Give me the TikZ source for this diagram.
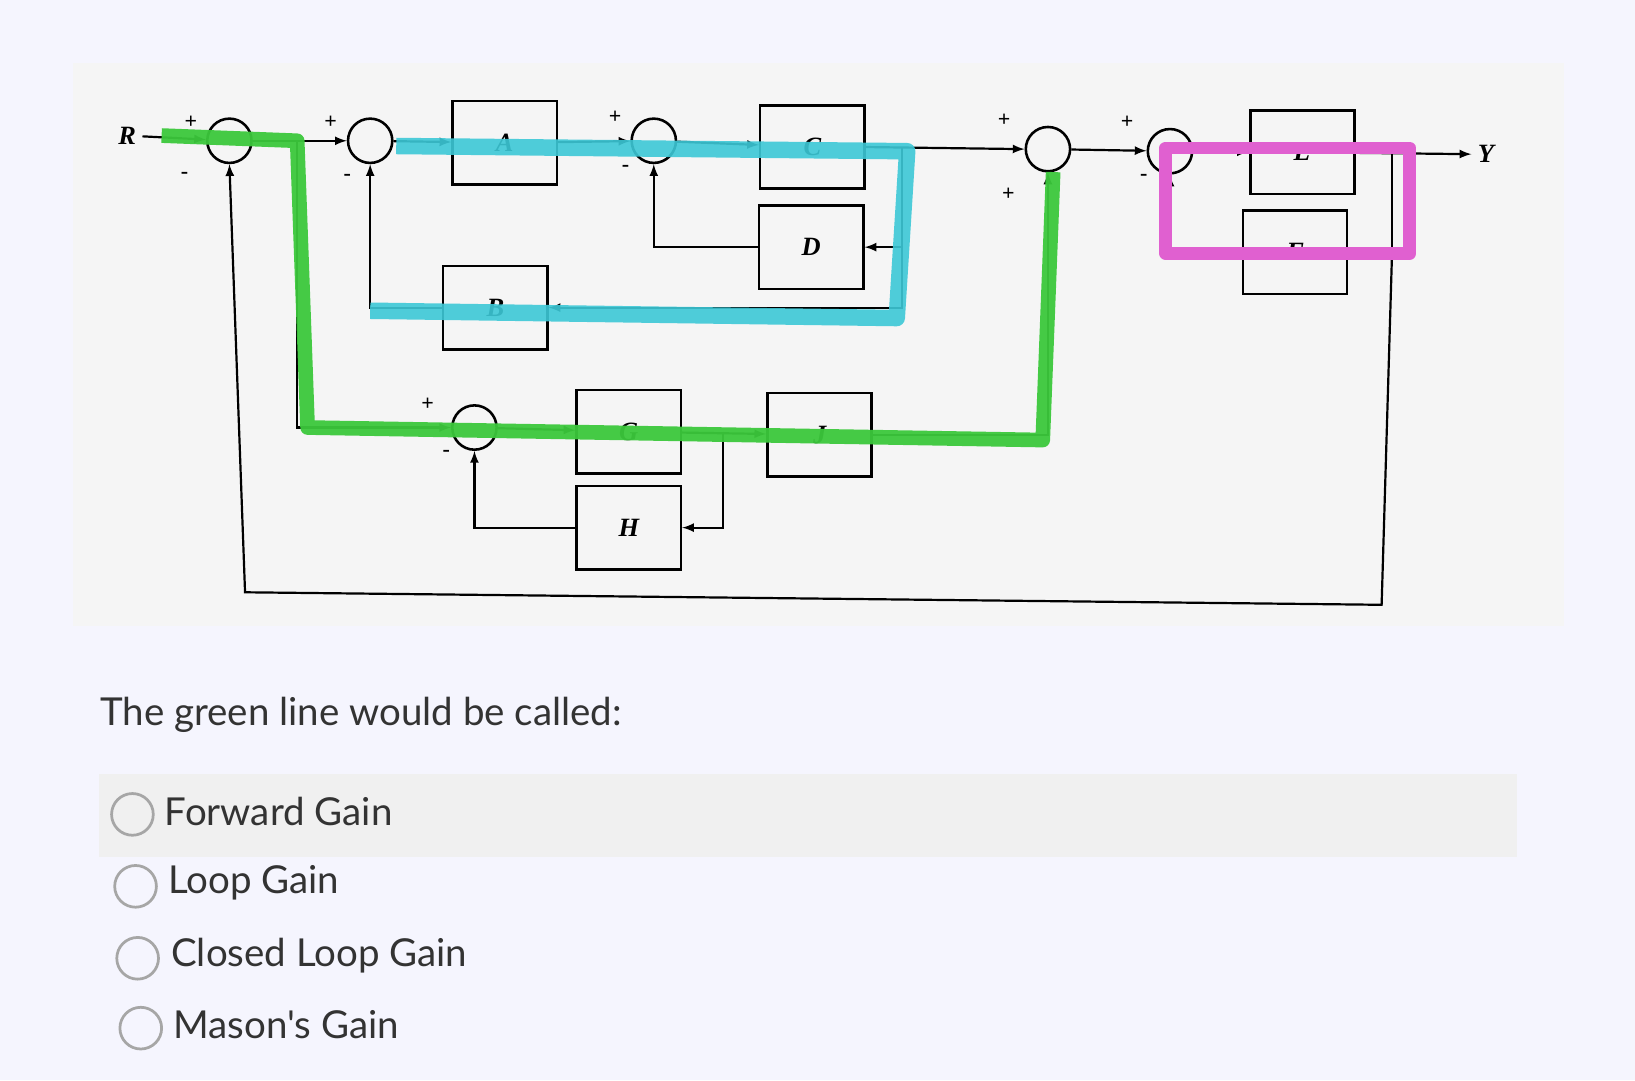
\documentclass[tikz,border=0pt]{standalone}
\usepackage{fontspec}
\setmainfont{Liberation Serif}
\newfontfamily\uifont{Lato}
\definecolor{cy}{HTML}{3CC8D6}
\definecolor{gr}{HTML}{3CC83C}
\definecolor{mg}{HTML}{E060D0}
\begin{document}
\begin{tikzpicture}[x=0.02cm,y=-0.02cm,
  blk/.style={draw,line width=1.4pt,minimum width=2cm,minimum height=1.6cm,font=\bfseries\itshape\Large},
  sm/.style={draw,circle,line width=1.4pt,minimum size=0.85cm,inner sep=0pt},
  ln/.style={line width=1.2pt},
  ar/.style={ln,-latex},
  pm/.style={font=\bfseries\large},
  ui/.style={font=\uifont\fontsize{21}{25}\selectfont,anchor=west,text=black!80},
  opt/.style={draw=gray!70,line width=1.5pt,circle,minimum size=0.8cm,inner sep=0pt}]
\useasboundingbox (0,0) rectangle (1568,1036);
\fill[red!6!blue!4!white] (0,0) rectangle (1568,1036);
\fill[gray!8] (70,60) rectangle (1500,600);
\fill[gray!12] (95,742) rectangle (1455,822);
% nodes
\node[sm] (s1) at (220,135) {};
\node[sm] (s2) at (355,135) {};
\node[sm] (s3) at (627,135) {};
\node[sm] (s4) at (1005,143) {};
\node[sm] (s5) at (1122,145) {};
\node[sm] (s6) at (455,410) {};
\node[blk] (A) at (484,137) {A};
\node[blk] (C) at (779,141) {C};
\node[blk] (D) at (778,237) {D};
\node[blk] (B) at (475,295) {B};
\node[blk] (E) at (1249,146) {E};
\node[blk] (F) at (1242,242) {F};
\node[blk] (G) at (603,414) {G};
\node[blk] (J) at (786,417) {J};
\node[blk] (H) at (603,506) {H};
\node[font=\bfseries\itshape\Large] (R) at (122,130) {R};
\node[font=\bfseries\itshape\Large] (Y) at (1425,148) {Y};
% connections
\draw[ar] (R) -- (s1);
\draw[ar] (s1) -- (s2);
\draw[ar] (s2) -- (A);
\draw[ar] (A) -- (s3);
\draw[ar] (s3) -- (C);
\draw[ar] (C.east) -- (s4.west);
\draw[ar] (s4) -- (s5);
\draw[ar] (s5) -- (E);
\draw[ar] (E) -- (Y);
\draw[ar] (865,141) |- (D.east);
\draw[ar] (D.west) -| (s3.south);
\draw[ar] (865,141) |- (B.east);
\draw[ar] (B.west) -| (s2.south);
\draw[ar] (285,135) |- (s6.west);
\draw[ar] (s6) -- (G);
\draw[ar] (G) -- (J);
\draw[ar] (J.east) -| (s4.south);
\draw[ar] (693,414) |- (H.east);
\draw[ar] (H.west) -| (s6.south);
\draw[ar] (1335,148) |- (F.east);
\draw[ar] (F.west) -| (s5.south);
\draw[ar] (1335,242) -- (1325,580) -- (235,568) -- (s1.south);
% signs
\node[pm] at (183,117) {+}; \node[pm] at (177,168) {-};
\node[pm] at (317,117) {+}; \node[pm] at (333,170) {-};
\node[pm] at (590,112) {+}; \node[pm] at (600,162) {-};
\node[pm] at (963,115) {+}; \node[pm] at (967,186) {+};
\node[pm] at (1081,117) {+}; \node[pm] at (1097,170) {-};
\node[pm] at (410,388) {+}; \node[pm] at (428,435) {-};
% overlays
\draw[cy,line width=9pt,line join=round,opacity=0.9] (380,140) -- (870,145) -- (860,305) -- (355,298);
\draw[gr,line width=8pt,line join=round,opacity=0.95] (155,130) -- (285,135) -- (295,410) -- (1000,422) -- (1010,165);
\draw[mg,line width=7pt,line join=round] (1118,142) rectangle (1352,243);
% question
\node[ui] (q) at (90,686) {The green line would be called:};
\node[opt] (o1) at (127,781) {};
\node[opt] (o2) at (130,850) {};
\node[opt] (o3) at (132,919) {};
\node[opt] (o4) at (135,986) {};
\node[ui] at (152,778) {Forward Gain};
\node[ui] at (155,847) {Loop Gain};
\node[ui] at (158,916) {Closed Loop Gain};
\node[ui] at (160,983) {Mason's Gain};
\end{tikzpicture}
\end{document}
